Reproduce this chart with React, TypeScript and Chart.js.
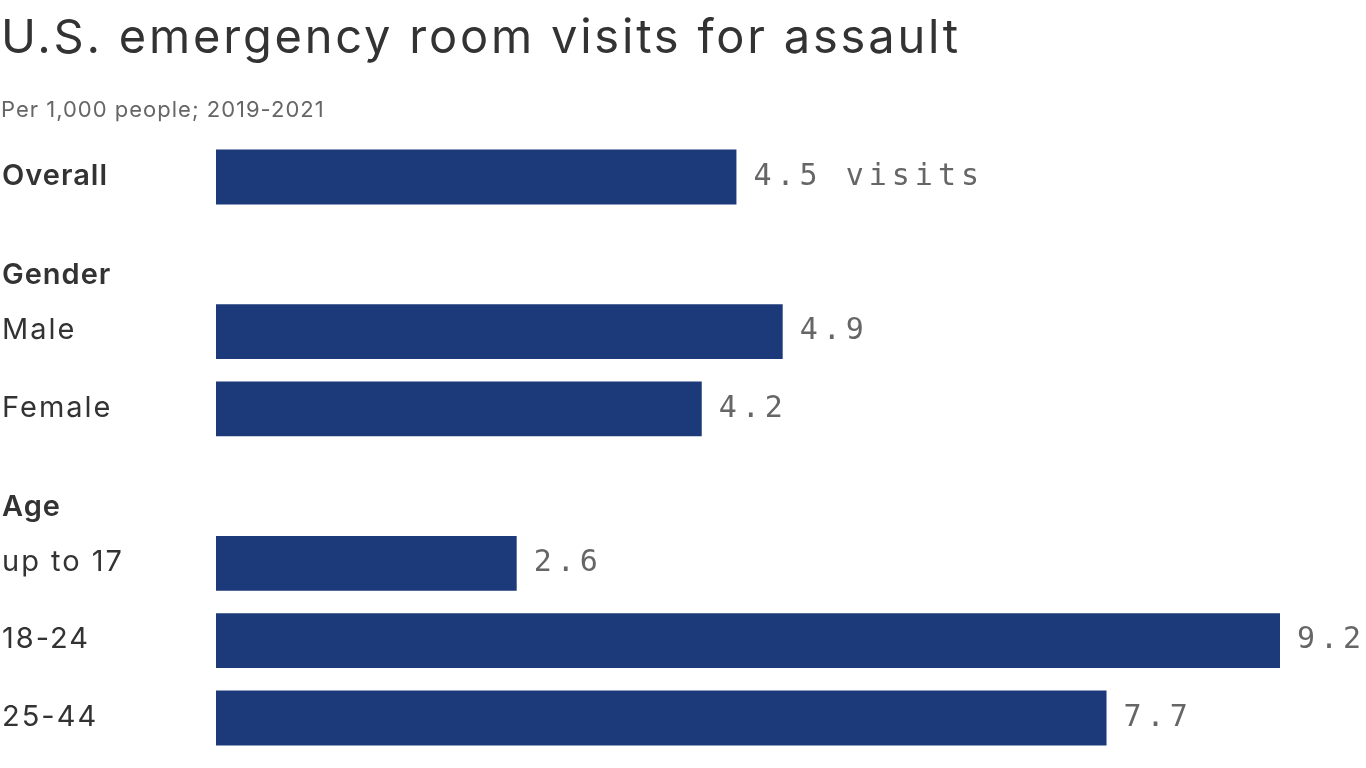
import { useEffect, useRef } from 'react';
import { Chart, registerables } from 'chart.js';

Chart.register(...registerables);

const TITLE = 'U.S. emergency room visits for assault';
const SUBTITLE = 'Per 1,000 people; 2019-2021';

const categories = ['Overall', 'Gender', 'Male', 'Female', 'Age', 'up to 17', '18-24', '25-44'];
const values = [4.5, null, 4.9, 4.2, null, 2.6, 9.2, 7.7];
const boldLabels = ['Overall', 'Gender', 'Age'];
const headerRows = ['Gender', 'Age'];
const firstValueSuffix = ' visits';

const BAR_COLOR = '#1c3a7a';
const TEXT_DARK = '#333333';
const TEXT_GREY = '#666666';
const SANS = 'Inter, "Noto Sans", sans-serif';
const MONO = '"DejaVu Sans Mono", "Liberation Mono", monospace';

const textPlugin = {
  id: 'axiosText',
  afterDraw(chart: Chart) {
    const { ctx } = chart;
    const y = chart.scales.y;
    const c = ctx as any;
    ctx.save();
    ctx.textAlign = 'left';

    // title + subtitle
    ctx.fillStyle = TEXT_DARK;
    ctx.font = `400 47px ${SANS}`;
    c.letterSpacing = '2.8px';
    ctx.textBaseline = 'alphabetic';
    ctx.fillText(TITLE, 1, 53);
    ctx.fillStyle = TEXT_GREY;
    ctx.font = `400 22px ${SANS}`;
    c.letterSpacing = '1px';
    ctx.fillText(SUBTITLE, 1, 117);

    // row labels
    ctx.textBaseline = 'middle';
    ctx.fillStyle = TEXT_DARK;
    categories.forEach((label, i) => {
      const bold = boldLabels.includes(label);
      ctx.font = `${bold ? 600 : 400} 29px ${SANS}`;
      c.letterSpacing = bold ? '1px' : '2px';
      const shift = headerRows.includes(label) ? 21 : -1;
      ctx.fillText(label, 2, y.getPixelForValue(i) + shift);
    });

    // value labels
    const meta = chart.getDatasetMeta(0);
    ctx.fillStyle = TEXT_GREY;
    ctx.font = `400 30px ${MONO}`;
    c.letterSpacing = '5px';
    meta.data.forEach((bar: any, i) => {
      const v = values[i];
      if (v == null) return;
      const text = v.toFixed(1) + (i === 0 ? firstValueSuffix : '');
      ctx.fillText(text, bar.x + 17, bar.y);
    });
    ctx.restore();
  },
};

export default function App() {
  const canvasRef = useRef<HTMLCanvasElement>(null);

  useEffect(() => {
    if (!canvasRef.current) return;
    document.body.style.margin = '0';

    const chart = new Chart(canvasRef.current, {
      type: 'bar',
      data: {
        labels: categories,
        datasets: [
          {
            data: values,
            backgroundColor: BAR_COLOR,
            borderWidth: 0,
            barPercentage: 0.71,
            categoryPercentage: 1,
          },
        ],
      },
      options: {
        indexAxis: 'y',
        responsive: true,
        maintainAspectRatio: false,
        animation: false,
        layout: { padding: { left: 216, right: 86, top: 138.4, bottom: 11.4 } },
        scales: {
          x: { display: false, min: 0, max: 9.2 },
          y: { display: false },
        },
        plugins: {
          legend: { display: false },
          tooltip: { enabled: false },
        },
      },
      plugins: [textPlugin],
    });

    return () => chart.destroy();
  }, []);

  return (
    <div style={{ position: 'fixed', left: 0, top: 0, width: 1366, height: 768, background: '#fff' }}>
      <canvas ref={canvasRef} />
    </div>
  );
}
